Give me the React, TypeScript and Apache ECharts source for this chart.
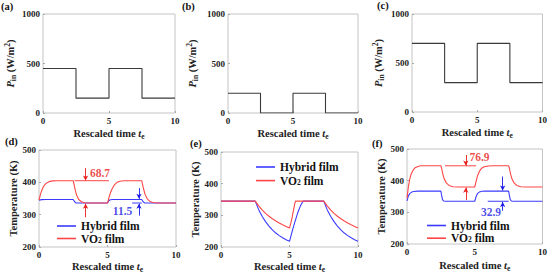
import React, { useEffect, useRef } from "react";
import * as echarts from "echarts";

// ---------- data ----------
// Top row: step input power P_in (W/m^2) at switching times
const stepTimes = [0, 2.5, 5, 7.5, 10];
const powerA = [450, 150, 450, 150, 150];
const powerB = [200, 0, 200, 0, 0];
const powerC = [700, 300, 700, 300, 300];

// (d) temperatures
const dHybridT = [0, 0.2, 0.5, 2.5, 2.6, 2.7, 2.9, 5.0, 5.1, 5.2, 5.4, 7.5, 7.6, 7.7, 7.9, 10];
const dHybridK = [345, 346.5, 347, 347, 340, 336.5, 336, 336, 343, 346, 347, 347, 340, 336.5, 336, 336];
const dVO2T = [0, 0.1, 0.2, 0.3, 0.45, 0.6, 0.8, 1.0, 1.3, 2.5, 2.55, 2.65, 2.75, 2.9, 3.1, 3.3, 3.6, 5.0, 5.1, 5.2, 5.35, 5.5, 5.7, 5.9, 6.2, 7.5, 7.55, 7.65, 7.75, 7.9, 8.1, 8.3, 8.6, 10];
const dVO2K = [345, 362, 375, 385, 394, 399, 403, 404.5, 405, 405, 395, 375, 360, 347, 340, 337, 336, 336, 352, 366, 381, 392, 400, 403.5, 405, 405, 395, 377, 362, 349, 341, 337.5, 336, 336];

// (e) temperatures
const eHybridT = [0, 2.5, 2.75, 3.0, 3.25, 3.5, 3.75, 4.0, 4.25, 4.5, 4.75, 5.0, 5.2, 5.4, 5.6, 5.8, 6.0, 7.5, 7.75, 8.0, 8.25, 8.5, 8.75, 9.0, 9.25, 9.5, 9.75, 10];
const eHybridK = [345, 345, 318, 297, 280, 266, 254, 244, 236, 229, 223, 218, 250, 280, 308, 330, 345, 345, 318, 297, 280, 266, 254, 244, 236, 229, 223, 218];
const eVO2T = [0, 2.5, 2.75, 3.0, 3.25, 3.5, 3.75, 4.0, 4.25, 4.5, 4.75, 5.0, 5.1, 5.2, 5.3, 5.4, 5.45, 7.5, 7.75, 8.0, 8.25, 8.5, 8.75, 9.0, 9.25, 9.5, 9.75, 10];
const eVO2K = [345, 345, 330, 317, 306, 297, 289, 282, 276, 270, 265, 260, 276, 295, 318, 340, 345, 345, 330, 317, 306, 297, 289, 282, 276, 270, 265, 260];

// (f) temperatures
const fHybridT = [0, 0.1, 0.2, 0.35, 0.5, 0.8, 2.5, 2.55, 2.62, 2.7, 2.85, 5.0, 5.1, 5.2, 5.35, 5.5, 5.8, 7.5, 7.55, 7.62, 7.7, 7.85, 10];
const fHybridK = [336, 352, 359, 364, 366, 367, 367, 355, 340, 336, 335, 335, 350, 359, 364.5, 366.5, 367, 367, 355, 340, 336, 335, 335];
const fVO2T = [0, 0.1, 0.2, 0.3, 0.45, 0.6, 0.8, 1.0, 2.5, 2.55, 2.65, 2.75, 2.9, 3.1, 3.4, 3.8, 5.0, 5.1, 5.2, 5.35, 5.5, 5.7, 6.0, 6.3, 7.5, 7.55, 7.65, 7.75, 7.9, 8.1, 8.4, 8.8, 10];
const fVO2K = [345, 380, 405, 420, 433, 441, 445, 447, 447, 440, 420, 405, 393, 385, 381, 380, 380, 398, 415, 430, 439, 444, 446.5, 447, 447, 440, 420, 405, 393, 385, 381, 380, 380];

// annotations: [t, y] values
const dRedLine = [[2.6, 405], [5.1, 405]];
const dRedArrows = [[3.4, 444, 406], [3.4, 292, 334]];
const dRedLabel = [4.45, 429, "68.7"];
const dBlueLine = [[6.8, 336], [7.5, 336]];
const dBlueArrows = [[7.3, 382, 349], [7.3, 297, 334]];
const dBlueLabel = [6.1, 311, "11.5"];

const fRedLine = [[2.8, 447], [5.1, 447]];
const fRedArrows = [[4.34, 481, 448], [4.34, 339, 378]];
const fRedLabel = [5.35, 475, "76.9"];
const fBlueLine = [[5.96, 335], [7.5, 335]];
const fBlueArrows = [[7.06, 413, 369], [7.06, 305, 333]];
const fBlueLabel = [6.2, 302, "32.9"];

const panelLabels = ["(a)", "(b)", "(c)", "(d)", "(e)", "(f)"];
const xTickRange = [0, 10, 5];
const topYRange = [0, 1000, 500];
const botYRange = [200, 500, 100];

// ---------- styling ----------
const FONT = "Liberation Serif";
const BLUE = "#3b3bff";
const RED = "#ff4646";
const BLUE_TXT = "#1c1ce6";
const RED_TXT = "#e81c1c";
const zip = (a: number[], b: number[]) => a.map((v, i) => [v, b[i]]);

const nameRich = {
  n: { fontSize: 10.5, fontWeight: "bold", fontFamily: FONT, color: "#222", lineHeight: 14 },
  i: { fontSize: 10.5, fontWeight: "bold", fontStyle: "italic", fontFamily: FONT, color: "#222", lineHeight: 14 },
  s: { fontSize: 7.5, fontWeight: "bold", fontFamily: FONT, color: "#222", lineHeight: 8, verticalAlign: "bottom" },
  p: { fontSize: 7.5, fontWeight: "bold", fontFamily: FONT, color: "#222", lineHeight: 8, verticalAlign: "top" },
};
const tickRich = {
  t: { fontSize: 9, fontWeight: "bold", fontFamily: FONT, color: "#222" },
};

const grids = [
  { left: 43, top: 14, width: 132, height: 99 },
  { left: 228, top: 14, width: 130, height: 99 },
  { left: 412, top: 14, width: 131, height: 98 },
  { left: 39, top: 150, width: 137, height: 97 },
  { left: 221, top: 152, width: 137, height: 95 },
  { left: 407, top: 149, width: 136, height: 95 },
];
const yNameGaps = [26, 29, 27, 17, 17, 18];
const xNameGaps = [13, 13, 13, 12, 12, 14];
const titlePos = [
  [1, 2], [182, 1.5], [377, 0.5], [5, 136.5], [190, 138.5], [372, 138.5],
];

export default function App() {
  const ref = useRef<HTMLDivElement>(null);
  useEffect(() => {
    if (!ref.current) return;
    const chart = echarts.init(ref.current, null, { renderer: "svg" });

    const tickLabel = {
      fontSize: 9,
      fontWeight: "bold",
      fontFamily: FONT,
      color: "#222",
      margin: 3,
      rich: tickRich,
      formatter: (v: number) => "{t|" + String(v) + "}",
    };

    const xAxis = grids.map((_, i) => ({
      type: "value",
      gridIndex: i,
      min: xTickRange[0],
      max: xTickRange[1],
      interval: xTickRange[2],
      axisLine: { show: false },
      axisTick: { show: true, inside: true, length: 2, lineStyle: { color: "#aaa" } },
      splitLine: { show: false },
      axisLabel: tickLabel,
      name: "{n|Rescaled time }{i|t}{s|e}",
      nameLocation: "middle",
      nameGap: xNameGaps[i],
      nameTextStyle: { rich: nameRich },
    }));

    const yAxis = grids.map((_, i) => {
      const r = i < 3 ? topYRange : botYRange;
      return {
        type: "value",
        gridIndex: i,
        min: r[0],
        max: r[1],
        interval: r[2],
        axisLine: { show: false },
        axisTick: { show: true, inside: true, length: 2, lineStyle: { color: "#aaa" } },
        splitLine: { show: false },
        axisLabel: tickLabel,
        name: i < 3 ? "{i|P}{s|in}{n| (W/m}{p|2}{n|)}" : "{n|Temperature (K)}",
        nameLocation: "middle",
        nameGap: yNameGaps[i],
        nameRotate: 90,
        nameTextStyle: { rich: nameRich },
      };
    });

    const series: any[] = [];
    [powerA, powerB, powerC].forEach((p, i) => {
      series.push({
        type: "line",
        xAxisIndex: i,
        yAxisIndex: i,
        step: "end",
        symbol: "none",
        data: zip(stepTimes, p),
        lineStyle: { color: "#3a3a3a", width: 1.1 },
      });
    });
    const temps = [
      [dHybridT, dHybridK, dVO2T, dVO2K],
      [eHybridT, eHybridK, eVO2T, eVO2K],
      [fHybridT, fHybridK, fVO2T, fVO2K],
    ];
    temps.forEach((t, k) => {
      const gi = k + 3;
      series.push({
        name: "Hybrid film",
        type: "line",
        xAxisIndex: gi,
        yAxisIndex: gi,
        symbol: "none",
        color: BLUE,
        data: zip(t[0], t[1]),
        lineStyle: { color: BLUE, width: 1.1 },
      });
      series.push({
        name: "VO2 film",
        type: "line",
        xAxisIndex: gi,
        yAxisIndex: gi,
        symbol: "none",
        color: RED,
        data: zip(t[2], t[3]),
        lineStyle: { color: RED, width: 1.1 },
      });
    });

    const annot = (gi: number, line: number[][], arrows: number[][], label: any[], color: string, txtColor: string) => {
      series.push({
        type: "line",
        xAxisIndex: gi,
        yAxisIndex: gi,
        symbol: "none",
        data: line,
        lineStyle: { color, width: 1 },
        markLine: {
          silent: true,
          symbol: ["none", "arrow"],
          symbolSize: [4, 5],
          label: { show: false },
          lineStyle: { color: txtColor, width: 0.9, type: "solid" },
          data: arrows.map((a) => [{ coord: [a[0], a[1]] }, { coord: [a[0], a[2]] }]),
        },
      });
      series.push({
        type: "scatter",
        xAxisIndex: gi,
        yAxisIndex: gi,
        symbolSize: 0,
        data: [[label[0], label[1]]],
        itemStyle: { color: "transparent" },
        label: {
          show: true,
          position: "inside",
          formatter: "{v|" + label[2] + "}",
          rich: { v: { color: txtColor, fontSize: 11.5, fontWeight: "bold", fontFamily: FONT } },
        },
      });
    };
    annot(3, dRedLine, dRedArrows, dRedLabel, RED, RED_TXT);
    annot(3, dBlueLine, dBlueArrows, dBlueLabel, BLUE, BLUE_TXT);
    annot(5, fRedLine, fRedArrows, fRedLabel, RED, RED_TXT);
    annot(5, fBlueLine, fBlueArrows, fBlueLabel, BLUE, BLUE_TXT);

    const legendRich = {
      n: { fontSize: 11.5, fontWeight: "bold", fontFamily: FONT, color: "#111", lineHeight: 11 },
      s: { fontSize: 7.5, fontWeight: "bold", fontFamily: FONT, color: "#111", lineHeight: 7, verticalAlign: "bottom" },
    };
    const mkLegend = (left: number, top: number, gap: number) => ({
      data: ["Hybrid film", "VO2 film"],
      left,
      top,
      orient: "vertical",
      icon: "rect",
      itemWidth: 19,
      itemHeight: 1.6,
      itemGap: gap,
      padding: 0,
      selectedMode: false,
      formatter: (n: string) => (n === "VO2 film" ? "{n|VO}{s|2}{n| film}" : "{n|" + n + "}"),
      textStyle: { rich: legendRich, padding: [0, 0, 0, 0] },
    });

    chart.setOption({
      animation: false,
      backgroundColor: "#fff",
      title: panelLabels.map((t, i) => ({
        text: "{l|" + t + "}",
        left: titlePos[i][0],
        top: titlePos[i][1],
        padding: 0,
        textStyle: { rich: { l: { fontSize: 10.5, fontWeight: "bold", fontFamily: FONT, color: "#111", lineHeight: 9 } } },
      })),
      grid: grids.map((g) => ({ ...g, show: true, borderColor: "#c4c4c4", borderWidth: 1, backgroundColor: "transparent" })),
      xAxis,
      yAxis,
      legend: [mkLegend(57, 220, 0.5), mkLegend(256, 161, 1.6), mkLegend(427, 219.5, 0.7)],
      series,
    });
    return () => chart.dispose();
  }, []);
  return <div ref={ref} style={{ position: "absolute", left: 0, top: 0, width: 550, height: 280 }} />;
}
